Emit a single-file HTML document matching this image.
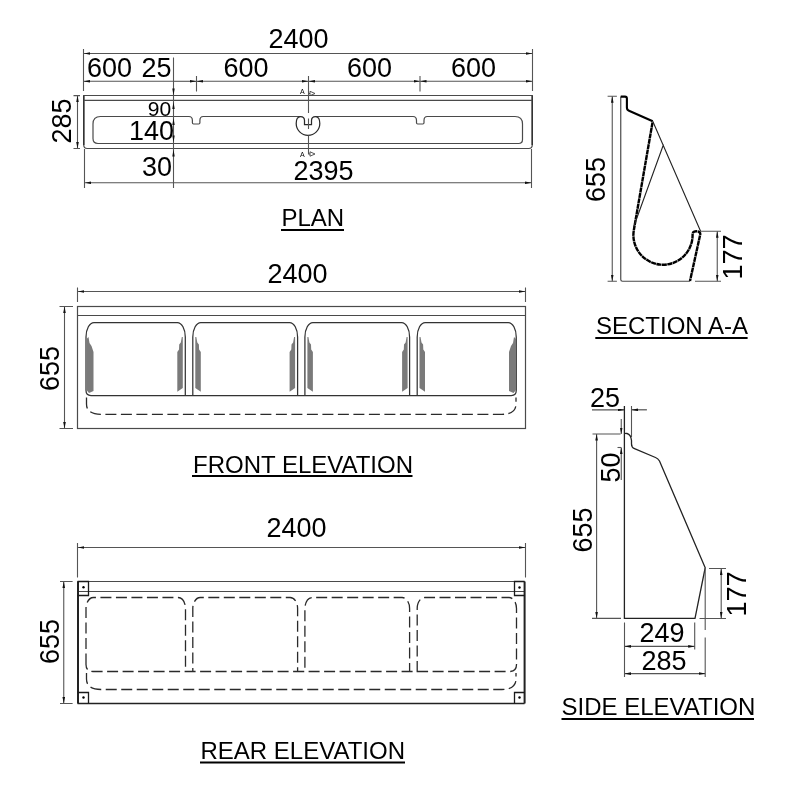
<!DOCTYPE html>
<html><head><meta charset="utf-8"><style>
html,body{margin:0;padding:0;background:#fff;width:800px;height:800px;overflow:hidden}
svg{display:block;will-change:transform}
text{font-family:"Liberation Sans",sans-serif;fill:#000}
.l{stroke:#4a4a4a;stroke-width:1.2;fill:none}
.d{stroke:#555;stroke-width:1.1;fill:none}
.k{stroke:#111;stroke-width:1.3;fill:none}
.ds{stroke:#2a2a2a;stroke-width:1.3;fill:none;stroke-dasharray:11 4.5}
.ul{stroke:#000;stroke-width:2}
.ar{fill:#111;stroke:none}
</style></head><body>
<svg width="800" height="800" viewBox="0 0 800 800">
<defs>
<marker id="ae" viewBox="0 0 6.5 2.6" refX="6.5" refY="1.3" markerWidth="6.5" markerHeight="2.6" markerUnits="userSpaceOnUse" orient="auto"><path d="M0,0 L6.5,1.3 L0,2.6 z" class="ar"/></marker>
<marker id="as" viewBox="0 0 6.5 2.6" refX="0" refY="1.3" markerWidth="6.5" markerHeight="2.6" markerUnits="userSpaceOnUse" orient="auto"><path d="M6.5,0 L0,1.3 L6.5,2.6 z" class="ar"/></marker>
</defs>

<!-- ================= PLAN ================= -->
<g id="plan">
<!-- extension lines -->
<path class="d" d="M83.5,49 V91 M532.5,49 V91 M84.5,149 V188 M531.5,149 V188"/>
<!-- 2400 dim -->
<path class="d" d="M83.5,53.5 H532.5" marker-start="url(#as)" marker-end="url(#ae)"/>
<!-- second dim row -->
<path class="d" d="M83.5,81.3 H173.5" marker-start="url(#as)"/>
<path class="d" d="M173.5,81.3 H196.5" marker-end="url(#ae)"/>
<path class="d" d="M196.5,81.3 H308.5" marker-start="url(#as)" marker-end="url(#ae)"/>
<path class="d" d="M308.5,81.3 H420" marker-start="url(#as)" marker-end="url(#ae)"/>
<path class="d" d="M420,81.3 H532.5" marker-start="url(#as)" marker-end="url(#ae)"/>
<path class="d" d="M196.5,76 V91.5 M420,76 V91.5"/>
<!-- outline -->
<path class="l" d="M83.75,95.5 H532.25 V145 Q532.25,148.5 528.75,148.5 H87.25 Q83.75,148.5 83.75,145 Z"/>
<path class="l" style="stroke:#333;stroke-width:1.5" d="M83.75,95.5 V145 M532.25,95.5 V145"/>
<path class="l" d="M83.75,100.3 H532.25"/>
<!-- inner rect with notches and hole -->
<path class="l" d="M100.5,116.5 H188.9 C191.0,116.5 192.4,118 192.4,120.5 V122.8 Q192.4,124 193.6,124 H198.7 Q199.9,124 199.9,122.8 V120.5 C199.9,118 201.3,116.5 203.2,116.5 H300.5 M315.5,116.5 H413.0 C415.1,116.5 416.5,118 416.5,120.5 V122.8 Q416.5,124 417.7,124 H422.8 Q424.0,124 424.0,122.8 V120.5 C424.0,118 425.4,116.5 427.3,116.5 H515 Q522.5,116.5 522.5,124 V139.5 Q522.5,143.5 518.5,143.5 H98 Q93,143.5 93,138.5 V124 Q93,116.5 100.5,116.5"/>
<path class="l" style="stroke:#2a2a2a;stroke-width:1.25" d="M304.5,124.5 V120.5 Q304.5,116.5 300.5,116.5 Q296.2,116.5 296.2,123.5 A11.8,11.8 0 0 0 319.8,123.5 Q319.8,116.5 315.5,116.5 Q311.5,116.5 311.5,120.5 V124.5 Z"/>
<!-- centre line -->
<path class="d" d="M308.5,76 V113 M308.5,118.5 V129 M308.5,135.5 V154 H310 M308.5,93.5 H310"/>
<path d="M310,91.3 L315,93.5 L310,95.7 Z M310,151.8 L315,154 L310,156.2 Z" fill="none" stroke="#444" stroke-width="0.9"/>
<!-- vertical dim at 174 -->
<path class="d" d="M173.5,57.5 V188"/>
<path class="ar" d="M172.3,88.5 L173.5,95.5 L174.7,88.5 Z M172.3,109 L173.5,102 L174.7,109 Z M172.3,125 L173.5,118 L174.7,125 Z M172.3,135.5 L173.5,142.5 L174.7,135.5 Z M172.3,156.5 L173.5,149.5 L174.7,156.5 Z"/>
<!-- 285 dim -->
<path class="d" d="M77.5,95.6 V148.5" marker-start="url(#as)" marker-end="url(#ae)"/>
<path class="d" d="M73.5,95.6 H80 M73.5,148.5 H80"/>
<!-- 2395 dim -->
<path class="d" d="M84.5,182.75 H531.5" marker-start="url(#as)" marker-end="url(#ae)"/>
<!-- texts -->
<text transform="translate(268.5,47.7) scale(1,1.04)" font-size="27">2400</text>
<text transform="translate(87,77.3) scale(1,1.04)" font-size="27">600</text>
<text transform="translate(141.5,77) scale(1,1.04)" font-size="27">25</text>
<text transform="translate(223.5,77) scale(1,1.04)" font-size="27">600</text>
<text transform="translate(347,77.2) scale(1,1.04)" font-size="27">600</text>
<text transform="translate(451,77.2) scale(1,1.04)" font-size="27">600</text>
<text transform="translate(129,139.5) scale(1,1.04)" font-size="27">140</text>
<text transform="translate(142,176) scale(1,1.04)" font-size="27">30</text>
<text transform="translate(293.5,179.5) scale(1,1.04)" font-size="27">2395</text>
<text transform="translate(147.8,116) scale(1.08,1.02)" font-size="19.5">90</text>
<text transform="translate(71.3,143.5) rotate(-90) scale(1,1.04)" font-size="27">285</text>
<text x="300" y="94" font-size="7">A</text>
<text x="300" y="156.5" font-size="7">A</text>
<text x="281.5" y="226" font-size="24">PLAN</text>
<path class="ul" d="M281,230 H344"/>
</g>

<!-- ================= FRONT ELEVATION ================= -->
<g id="front">
<path class="d" d="M77.5,287.5 V302 M525.5,287.5 V302"/>
<path class="d" d="M77.5,291.5 H525.5" marker-start="url(#as)" marker-end="url(#ae)"/>
<text transform="translate(267.5,283) scale(1,1.04)" font-size="27">2400</text>
<rect class="l" x="77.5" y="306.5" width="448" height="122"/>
<path class="l" d="M77.5,315.5 H525.5"/>
<path class="d" d="M64.5,306.5 V428.5" marker-start="url(#as)" marker-end="url(#ae)"/>
<path class="d" d="M59.5,306.5 H73 M59.5,428.5 H73"/>
<text transform="translate(59.2,391) rotate(-90) scale(1,1.04)" font-size="27">655</text>
<!-- bowls -->
<path class="l" style="stroke:#333;stroke-width:1.25" d="M86,390.5 V337.0 A8,14.5 0 0 1 94,322.5 H177.3 A8,14.5 0 0 1 185.3,337.0 V395.5 M192.8,395.5 V337.0 A8,14.5 0 0 1 200.8,322.5 H289.6 A8,14.5 0 0 1 297.6,337.0 V395.5 M304.9,395.5 V337.0 A8,14.5 0 0 1 312.9,322.5 H401.6 A8,14.5 0 0 1 409.6,337.0 V395.5 M417.2,395.5 V337.0 A8,14.5 0 0 1 425.2,322.5 H508.25 A8,14.5 0 0 1 516.25,337.0 V390.5 M516.25,390.5 Q516.25,395.5 511.25,395.5 H91 Q86,395.5 86,390.5"/>
<g fill="#7a7a7a">
<path d="M86.5,339 L88.5,337 L89.5,343 L91.5,346 L93.5,352 V391 L89,393 L86.5,390 Z"/>
<path d="M516,339 L514,337 L513,343 L511,346 L509,352 V391 L513.5,393 L516,390 Z"/>
<path id="sr" d="M182.8,337 V388 L177.3,391.7 V352 L179,349.5 L179.2,344.5 L180.8,342.5 L181.8,337 Z"/>
<path d="M195.3,337 V388 L200.8,391.7 V352 L199.1,349.5 L198.9,344.5 L197.3,342.5 L196.3,337 Z"/>
<path d="M295.1,337 V388 L289.6,391.7 V352 L291.3,349.5 L291.5,344.5 L293.1,342.5 L294.1,337 Z"/>
<path d="M307.4,337 V388 L312.9,391.7 V352 L311.2,349.5 L311,344.5 L309.4,342.5 L308.4,337 Z"/>
<path d="M407.6,337 V388 L402.1,391.7 V352 L403.8,349.5 L404,344.5 L405.6,342.5 L406.6,337 Z"/>
<path d="M419.5,337 V388 L425,391.7 V352 L423.3,349.5 L423.1,344.5 L421.5,342.5 L420.5,337 Z"/>
</g>
<path class="ds" d="M86.5,397.5 V404 Q86.5,414.3 101,414.3 H502 Q516,414.3 516,404 V397.5"/>
<text x="193" y="472.5" font-size="24">FRONT ELEVATION</text>
<path class="ul" d="M192,476 H412.5"/>
</g>

<!-- ================= SECTION A-A ================= -->
<g id="section">
<path class="d" d="M612.25,96.25 V281.25" marker-start="url(#as)" marker-end="url(#ae)"/>
<path class="d" d="M607.6,96.25 H616.9 M607.6,281.25 H616.9"/>
<path class="l" d="M620.75,96.5 V279.5 Q620.75,281.25 622.5,281.25 H690"/>
<path class="d" d="M695,281.25 H721 M700.6,231.25 H721"/>
<path class="d" d="M717.25,231.25 V281.25" marker-start="url(#as)" marker-end="url(#ae)"/>
<path class="k" style="stroke:#000;stroke-width:2.1" d="M620.75,96.6 H625 Q626.9,96.6 626.9,98.5 V107.5 Q626.9,110 629,110.8 L652.75,121.2"/>
<path class="k" style="stroke:#000;stroke-width:2.4;stroke-dasharray:5 0.5" d="M652.5,122.5 L633.9,229.7 A29.6,29.6 0 1 0 692.6,235 V233.8 Q692.9,231.3 696.5,231.3 Q700.3,231.5 700.3,234.2 L690,281"/>
<path class="l" style="stroke:#222;stroke-width:1.1" d="M652.75,121.2 L700.6,231.25 M663.5,144.5 L633.6,227"/>
<text transform="translate(605.2,202) rotate(-90) scale(1,1.04)" font-size="27">655</text>
<text transform="translate(742.3,279.5) rotate(-90) scale(1,1.04)" font-size="27">177</text>
<text x="596" y="334" font-size="24">SECTION A-A</text>
<path class="ul" d="M595.3,338 H747.6"/>
</g>

<!-- ================= SIDE ELEVATION ================= -->
<g id="side">
<text transform="translate(590,406.5) scale(1,1.04)" font-size="27">25</text>
<path class="d" style="stroke-width:1.25" d="M592,409.8 H624.4" marker-end="url(#ae)"/>
<path class="d" style="stroke-width:1.25" d="M646.9,409.8 H631.5" marker-end="url(#ae)"/>
<path class="d" d="M631.5,406 V437"/>
<path class="l" style="stroke:#222;stroke-width:1.3" d="M624.4,406 V618.4 H695 L705.2,567.75 L659.5,461 Q658,458.5 655.5,457.5 L634.5,448.7 Q631.5,447.5 631.5,444 V440.5 Q631,434.5 627,433.5 Q625,433.2 624.4,433.8"/>
<path class="d" d="M596.6,434 V618.4" marker-start="url(#as)" marker-end="url(#ae)"/>
<path class="d" d="M592.5,434 H620.6 M592,618.4 H621"/>
<text transform="translate(591.5,552.5) rotate(-90) scale(1,1.04)" font-size="27">655</text>
<path class="d" d="M621.25,419 V434" marker-end="url(#ae)"/>
<path class="d" d="M621.25,480 V447.5" marker-end="url(#ae)"/>
<path class="d" d="M617.5,447.5 H621.25"/>
<text transform="translate(619.5,482.5) rotate(-90) scale(1,1.04)" font-size="27">50</text>
<path class="d" d="M709,568.5 H726 M699.5,618.5 H726"/>
<path class="d" d="M721.2,568.5 V618.5" marker-start="url(#as)" marker-end="url(#ae)"/>
<text transform="translate(745.5,616.5) rotate(-90) scale(1,1.04)" font-size="27">177</text>
<path class="d" d="M705.2,568 V630 M705.2,637.5 V677 M694.7,622.5 V649.5 M624.5,622.5 V677"/>
<path class="d" d="M624.5,646.4 H694.7" marker-start="url(#as)" marker-end="url(#ae)"/>
<path class="d" d="M624.5,673.6 H705.2" marker-start="url(#as)" marker-end="url(#ae)"/>
<text transform="translate(639.5,642) scale(1,1.04)" font-size="27">249</text>
<text transform="translate(641.5,669.5) scale(1,1.04)" font-size="27">285</text>
<text x="561.5" y="715" font-size="24">SIDE ELEVATION</text>
<path class="ul" d="M561.5,719 H754"/>
</g>

<!-- ================= REAR ELEVATION ================= -->
<g id="rear">
<path class="d" d="M77.5,543 V577.5 M525.5,543 V577.5"/>
<path class="d" d="M77.5,547.5 H525.5" marker-start="url(#as)" marker-end="url(#ae)"/>
<text transform="translate(266.5,537) scale(1,1.04)" font-size="27">2400</text>
<path class="l" d="M77.5,581.5 H524.6 M77.5,591.5 H524.6"/><path class="l" style="stroke:#222;stroke-width:1.4" d="M77.5,703.5 H524.6"/>
<path class="l" style="stroke:#222;stroke-width:2" d="M78,581.5 V703.5 M524.6,581.5 V703.5"/>
<path class="l" style="stroke:#1a1a1a;stroke-width:1.3" d="M77.5,581.5 H88.5 V595.5 H77.5 M77.5,692.5 H88.5 V703.5 M524.6,581.5 H514.5 V595.5 H524.6 M524.6,692.5 H514.5 V703.5"/>
<circle cx="83.5" cy="587.3" r="1.2" fill="#000"/>
<circle cx="83.5" cy="697.5" r="1.2" fill="#000"/>
<circle cx="519.5" cy="587.5" r="1.2" fill="#000"/>
<circle cx="519.5" cy="697.5" r="1.2" fill="#000"/>
<path class="d" d="M63.75,581.5 V703.5" marker-start="url(#as)" marker-end="url(#ae)"/>
<path class="d" d="M60,581.5 H72.6 M60,703.5 H72.6"/>
<text transform="translate(59,664) rotate(-90) scale(1,1.04)" font-size="27">655</text>
<path class="ds" d="M86,664.5 V608.5 A7.5,11 0 0 1 93.5,597.5 H178.0 A7.5,11 0 0 1 185.5,608.5 V671.5 H192.8 V608.5 A7.5,11 0 0 1 200.3,597.5 H290.1 A7.5,11 0 0 1 297.6,608.5 V671.5 H304.9 V608.5 A7.5,11 0 0 1 312.4,597.5 H402.1 A7.5,11 0 0 1 409.6,608.5 V671.5 H417.2 V608.5 A7.5,11 0 0 1 424.7,597.5 H509.0 A7.5,11 0 0 1 516.5,608.5 V664.5 Q516.5,671.5 509.5,671.5 H93 Q86,671.5 86,664.5 Z"/>
<path class="ds" d="M86.5,673 V679 Q86.5,689.5 101,689.5 H502 Q516,689.5 516,679 V673"/>
<text x="200.5" y="759" font-size="24">REAR ELEVATION</text>
<path class="ul" d="M200,762.5 H405"/>
</g>

</svg>
</body></html>
